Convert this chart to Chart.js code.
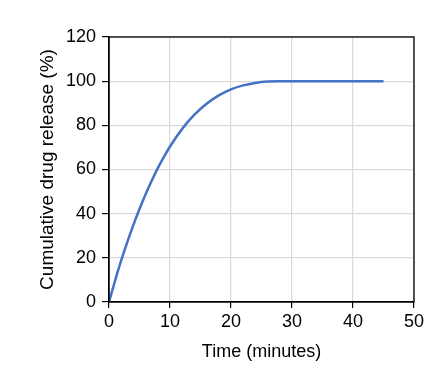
<!DOCTYPE html>
<html>
<head>
<meta charset="utf-8">
<script src="https://cdn.jsdelivr.net/npm/chart.js@4"></script>
<style>
  html, body { margin: 0; padding: 0; background: #fff; }
  #wrap { width: 446px; height: 384px; }
</style>
</head>
<body>
<div id="wrap"><canvas id="releaseChart" width="446" height="384"></canvas></div>
<script>
// Release profile
const timeMin = [0, 1, 2, 3, 4, 5, 6, 7, 8, 9, 10, 12, 14, 16, 18, 20, 22, 24, 26, 28, 30, 35, 40, 45];
const releasePct = [0, 9.7, 18.8, 27.1, 34.9, 42.1, 48.8, 54.9, 60.6, 65.7, 70.4, 78.4, 84.8, 89.8, 93.6, 96.3, 98.1, 99.2, 99.8, 100, 100, 100, 100, 100];
const xTicks = [0, 10, 20, 30, 40, 50];
const yTicks = [0, 20, 40, 60, 80, 100, 120];

const points = timeMin.map((t, i) => ({ x: t, y: releasePct[i] }));

// black frame around the plot area (Excel style)
const frame = {
    id: 'frame',
    afterDraw(chart) {
        const a = chart.chartArea;
        const c = chart.ctx;
        c.save();
        c.strokeStyle = '#000';
        c.lineWidth = 1.3;
        c.strokeRect(a.left, a.top, a.right - a.left, a.bottom - a.top);
        c.restore();
    }
};

Chart.defaults.font.family = '"Liberation Sans", Arial, sans-serif';
Chart.defaults.color = '#000';

const ctx = document.getElementById('releaseChart').getContext('2d');
new Chart(ctx, {
    type: 'line',
    data: {
        datasets: [{
            data: points,
            borderColor: '#4472C4',
            borderWidth: 2.5,
            pointRadius: 0,
            fill: false,
            tension: 0.4,
            cubicInterpolationMode: 'monotone'
        }]
    },
    options: {
        responsive: false,
        animation: false,
        layout: { padding: { top: 37, right: 32, left: 0, bottom: 21 } },
        plugins: { legend: { display: false }, tooltip: { enabled: false } },
        scales: {
            x: {
                type: 'linear',
                min: 0,
                max: 50,
                afterBuildTicks: s => { s.ticks = xTicks.map(v => ({ value: v })); },
                afterFit: s => { s.height = 61; },
                ticks: { font: { size: 18 }, padding: 3, maxRotation: 0 },
                grid: { color: '#d9d9d9', lineWidth: 1.2, tickColor: '#000', tickLength: 6 },
                border: { color: '#000', width: 1.3 },
                title: { display: true, text: 'Time (minutes)', font: { size: 18 }, padding: { top: 2, bottom: 0 } }
            },
            y: {
                min: 0,
                max: 120,
                afterBuildTicks: s => { s.ticks = yTicks.map(v => ({ value: v })); },
                afterFit: s => { s.width = 109; },
                ticks: { font: { size: 18 }, padding: 6 },
                grid: { color: '#d9d9d9', lineWidth: 1.2, tickColor: '#000', tickLength: 7 },
                border: { color: '#000', width: 1.3 },
                title: { display: true, text: 'Cumulative drug release (%)', font: { size: 19 }, padding: { top: 36, bottom: 0 } }
            }
        }
    },
    plugins: [frame]
});
</script>
</body>
</html>
